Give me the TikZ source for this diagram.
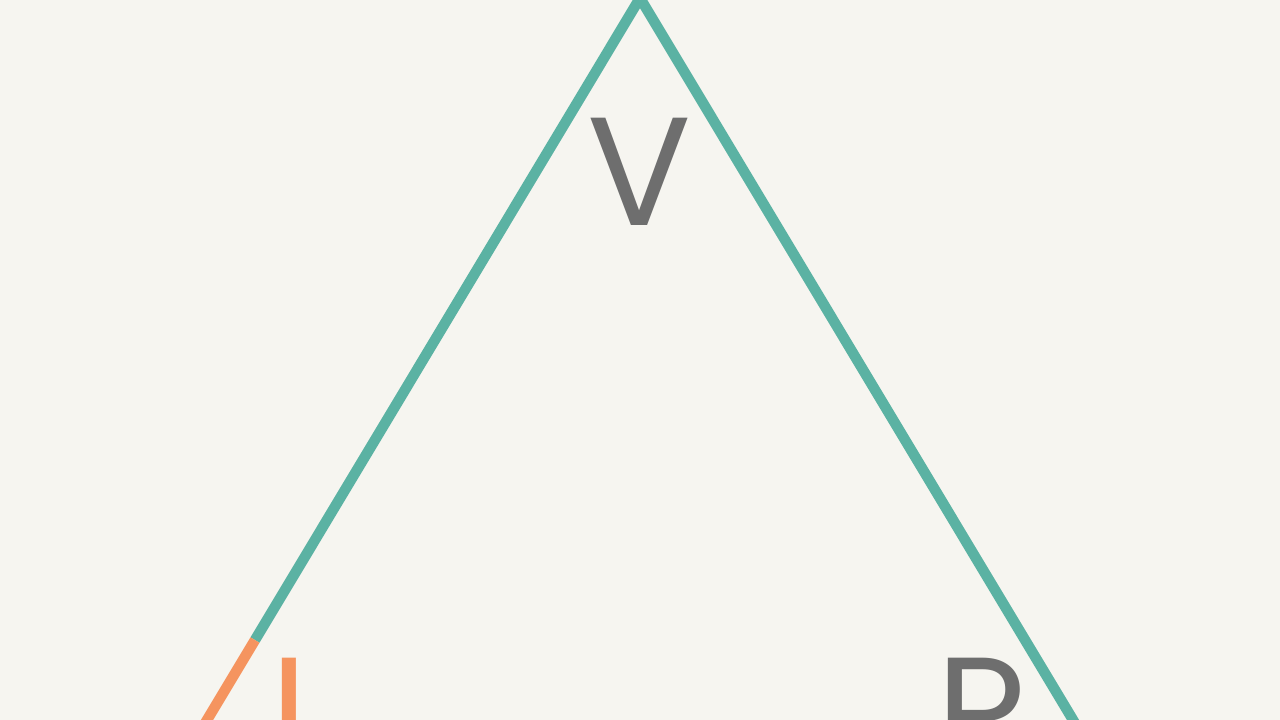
\documentclass[tikz,border=0pt]{standalone}
\usepackage{fontspec}
\setmainfont{Poppins}
\definecolor{bg}{RGB}{246,245,240}
\definecolor{teal}{RGB}{91,178,163}
\definecolor{orng}{RGB}{245,148,95}
\definecolor{txt}{RGB}{110,110,110}
\tikzset{
  side/.style={line width=10.5pt, line cap=butt},
  letter/.style={inner sep=0pt, font=\fontsize{154}{154}\selectfont}
}
\begin{document}
\begin{tikzpicture}[x=1pt,y=-1pt]
\useasboundingbox (0,0) rectangle (1280,720);
\fill[bg] (0,0) rectangle (1280,720);
\clip (0,0) rectangle (1280,720);
\coordinate (apex) at (640,-2);
\coordinate (mid) at (255,640);
\coordinate (lbot) at (159,800);
\coordinate (rbot) at (1121,800);
\draw[side, teal, line join=miter] (mid) -- (apex) -- (rbot);
\draw[side, orng] (mid) -- (lbot);
\node[letter, text=txt, anchor=base] (v) at (640,225) {V};
\node[letter, text=orng, anchor=base] (i) at (289,765) {I};
\node[letter, text=txt, anchor=base west] (r) at (936,765) {R};
\end{tikzpicture}
\end{document}
